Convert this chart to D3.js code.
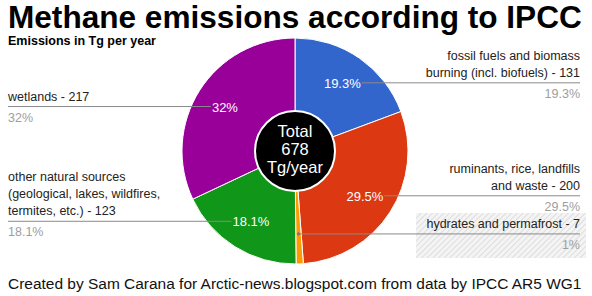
<!DOCTYPE html>
<html>
<head>
<meta charset="utf-8">
<script src="https://cdn.jsdelivr.net/npm/d3@7"></script>
<style>
  body { margin: 0; background: #fff; }
  svg { display: block; font-family: Arial, "Liberation Sans", sans-serif; }
</style>
</head>
<body>
<svg id="chart" width="592" height="296"></svg>
<script>
// data, clockwise from 12 o'clock
const categories = [
  ["fossil fuels and biomass", "burning (incl. biofuels)"],
  ["ruminants, rice, landfills", "and waste"],
  ["hydrates and permafrost"],
  ["other natural sources", "(geological, lakes, wildfires,", "termites, etc.)"],
  ["wetlands"]
];
const values = [131, 200, 7, 123, 217];
const pctLabels = ["19.3%", "29.5%", "1%", "18.1%", "32%"];
const colors = ["#3366cc", "#dc3912", "#ff9900", "#109618", "#990099"];

const W = 592, H = 296;
const cx = 295, cy = 151, R = 113, labelR = 83;

const svg = d3.select('#chart');

// fit a text to a given width by adjusting its font size
function fitText(sel, size, width) {
  sel.style('font-size', size + 'px');
  const w = sel.node().getComputedTextLength();
  sel.style('font-size', (size * width / w).toFixed(2) + 'px');
}

// hatch pattern for the small-slice box
const defs = svg.append('defs');
const pat = defs.append('pattern')
  .attr('id', 'hatch')
  .attr('patternUnits', 'userSpaceOnUse')
  .attr('width', 4).attr('height', 4)
  .attr('patternTransform', 'rotate(45)');
pat.append('rect').attr('width', 4).attr('height', 4).attr('fill', '#f4f4f4');
pat.append('line').attr('x1', 0).attr('y1', 0).attr('x2', 0).attr('y2', 4)
  .attr('stroke', '#d6d6d6').attr('stroke-width', 1.5);

// title
const title = svg.append('text')
  .attr('x', 8).attr('y', 28)
  .style('font-weight', 'bold').attr('fill', '#000')
  .text('Methane emissions according to IPCC');
fitText(title, 27, 574);

svg.append('text')
  .attr('x', 8).attr('y', 45)
  .style('font-size', '12.5px').style('font-weight', 'bold').attr('fill', '#000')
  .text('Emissions in Tg per year');

const pie = d3.pie().sort(null).value(d => d);
const arcs = pie(values);
const arc = d3.arc().innerRadius(0).outerRadius(R);
const labelArc = d3.arc().innerRadius(labelR).outerRadius(labelR);

// hatched box behind the hydrates legend
svg.append('rect')
  .attr('x', 416).attr('y', 213).attr('width', 170).attr('height', 45)
  .attr('fill', 'url(#hatch)');

const g = svg.append('g').attr('transform', 'translate(' + cx + ',' + cy + ')');

g.selectAll('path.slice')
  .data(arcs)
  .enter()
  .append('path')
  .attr('class', 'slice')
  .attr('d', arc)
  .attr('fill', (d, i) => colors[i])
  .attr('stroke', '#fff')
  .attr('stroke-width', 1);

// inside percent labels
const inLabels = g.selectAll('text.pct')
  .data(arcs)
  .enter()
  .append('text')
  .attr('class', 'pct')
  .attr('x', d => labelArc.centroid(d)[0])
  .attr('y', d => labelArc.centroid(d)[1] + 5)
  .attr('text-anchor', 'middle')
  .attr('fill', '#fff')
  .style('font-size', '13px')
  .text((d, i) => (d.endAngle - d.startAngle) > 0.2 ? pctLabels[i] : '');

// leader lines + legend texts
const leftX = 8, rightX = 580;
arcs.forEach((d, i) => {
  const c = labelArc.centroid(d);
  const ax = cx + c[0], ay = cy + c[1];
  const right = c[0] > 0;
  const small = (d.endAngle - d.startAngle) <= 0.2;
  const node = inLabels.nodes()[i];
  const half = small ? 0 : node.getComputedTextLength() / 2 + 1;

  svg.append('line')
    .attr('x1', right ? ax + half : leftX)
    .attr('x2', right ? rightX : ax - half)
    .attr('y1', ay).attr('y2', ay)
    .attr('stroke', '#8a8a8a').attr('stroke-width', 1);

  if (small) {
    svg.append('circle').attr('cx', ax).attr('cy', ay).attr('r', 1.6).attr('fill', '#777');
  }

  const lines = categories[i].slice();
  lines[lines.length - 1] += ' - ' + values[i];
  const tx = right ? rightX : leftX;
  const anchor = right ? 'end' : 'start';
  lines.forEach((ln, k) => {
    svg.append('text')
      .attr('x', tx)
      .attr('y', ay - 6 - (lines.length - 1 - k) * 17)
      .attr('text-anchor', anchor)
      .attr('fill', '#222')
      .style('font-size', '12.5px')
      .text(ln);
  });
  svg.append('text')
    .attr('x', tx).attr('y', ay + 15)
    .attr('text-anchor', anchor)
    .attr('fill', '#9e9e9e')
    .style('font-size', '12.5px')
    .text(pctLabels[i]);
});

// center total
g.append('circle').attr('r', 40).attr('fill', '#000').attr('stroke', '#fff').attr('stroke-width', 2);
const total = d3.sum(values);
['Total', total, 'Tg/year'].forEach((t, k) => {
  g.append('text')
    .attr('y', -15 + k * 18 + 1)
    .attr('text-anchor', 'middle')
    .attr('fill', '#fff')
    .style('font-size', '16.5px')
    .text(t);
});

// footer
const footer = svg.append('text')
  .attr('x', 8).attr('y', 289)
  .attr('fill', '#111')
  .text('Created by Sam Carana for Arctic-news.blogspot.com from data by IPCC AR5 WG1');
fitText(footer, 16, 574);
</script>
</body>
</html>
